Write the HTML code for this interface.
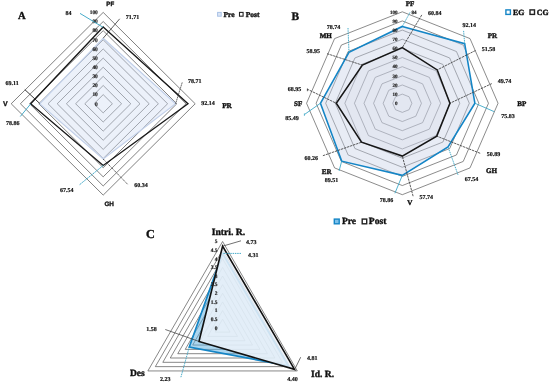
<!DOCTYPE html>
<html><head><meta charset="utf-8"><title>Radar charts</title>
<style>html,body{margin:0;padding:0;background:#fff;width:550px;height:385px;overflow:hidden}svg{display:block;text-rendering:geometricPrecision}</style>
</head><body>
<svg width="550" height="385" viewBox="0 0 550 385">
<polygon points="103.2,94.61 112.4,103.75 103.2,112.89 94,103.75" fill="none" stroke="#4a4a4a" stroke-width="0.7"/>
<polygon points="103.2,85.48 121.6,103.75 103.2,122.02 84.8,103.75" fill="none" stroke="#4a4a4a" stroke-width="0.7"/>
<polygon points="103.2,76.34 130.8,103.75 103.2,131.16 75.6,103.75" fill="none" stroke="#4a4a4a" stroke-width="0.7"/>
<polygon points="103.2,67.21 140,103.75 103.2,140.29 66.4,103.75" fill="none" stroke="#4a4a4a" stroke-width="0.7"/>
<polygon points="103.2,58.08 149.2,103.75 103.2,149.43 57.2,103.75" fill="none" stroke="#4a4a4a" stroke-width="0.7"/>
<polygon points="103.2,48.94 158.4,103.75 103.2,158.56 48,103.75" fill="none" stroke="#4a4a4a" stroke-width="0.7"/>
<polygon points="103.2,39.81 167.6,103.75 103.2,167.69 38.8,103.75" fill="none" stroke="#4a4a4a" stroke-width="0.7"/>
<polygon points="103.2,30.67 176.8,103.75 103.2,176.83 29.6,103.75" fill="none" stroke="#4a4a4a" stroke-width="0.7"/>
<polygon points="103.2,21.53 186,103.75 103.2,185.97 20.4,103.75" fill="none" stroke="#4a4a4a" stroke-width="0.7"/>
<polygon points="103.2,12.4 195.2,103.75 103.2,195.1 11.2,103.75" fill="none" stroke="#4a4a4a" stroke-width="0.7"/>
<polygon points="103.2,38.24 175.61,103.75 103.2,158.87 39.62,103.75" fill="#d0dbf3" fill-opacity="0.4" stroke="#c3d1ea" stroke-width="1.2" stroke-linejoin="miter"/>
<polygon points="103.2,27.02 187.97,103.75 103.2,165.45 30.65,103.75" fill="none" stroke="#181818" stroke-width="1.35" stroke-linejoin="miter"/>
<text x="97.8" y="105.55" font-size="5.4" font-family="'Liberation Serif','Times New Roman',serif" font-weight="bold" text-anchor="end" fill="#222" stroke="#222" stroke-width="0.18" >0</text>
<text x="97.8" y="96.41" font-size="5.4" font-family="'Liberation Serif','Times New Roman',serif" font-weight="bold" text-anchor="end" fill="#222" stroke="#222" stroke-width="0.18" >10</text>
<text x="97.8" y="87.28" font-size="5.4" font-family="'Liberation Serif','Times New Roman',serif" font-weight="bold" text-anchor="end" fill="#222" stroke="#222" stroke-width="0.18" >20</text>
<text x="97.8" y="78.14" font-size="5.4" font-family="'Liberation Serif','Times New Roman',serif" font-weight="bold" text-anchor="end" fill="#222" stroke="#222" stroke-width="0.18" >30</text>
<text x="97.8" y="69.01" font-size="5.4" font-family="'Liberation Serif','Times New Roman',serif" font-weight="bold" text-anchor="end" fill="#222" stroke="#222" stroke-width="0.18" >40</text>
<text x="97.8" y="59.88" font-size="5.4" font-family="'Liberation Serif','Times New Roman',serif" font-weight="bold" text-anchor="end" fill="#222" stroke="#222" stroke-width="0.18" >50</text>
<text x="97.8" y="50.74" font-size="5.4" font-family="'Liberation Serif','Times New Roman',serif" font-weight="bold" text-anchor="end" fill="#222" stroke="#222" stroke-width="0.18" >60</text>
<text x="97.8" y="41.61" font-size="5.4" font-family="'Liberation Serif','Times New Roman',serif" font-weight="bold" text-anchor="end" fill="#222" stroke="#222" stroke-width="0.18" >70</text>
<text x="97.8" y="32.47" font-size="5.4" font-family="'Liberation Serif','Times New Roman',serif" font-weight="bold" text-anchor="end" fill="#222" stroke="#222" stroke-width="0.18" >80</text>
<text x="97.8" y="23.33" font-size="5.4" font-family="'Liberation Serif','Times New Roman',serif" font-weight="bold" text-anchor="end" fill="#222" stroke="#222" stroke-width="0.18" >90</text>
<text x="97.8" y="14.2" font-size="5.4" font-family="'Liberation Serif','Times New Roman',serif" font-weight="bold" text-anchor="end" fill="#222" stroke="#222" stroke-width="0.18" >100</text>
<text x="110.3" y="5.88" font-size="6.2" font-family="'Liberation Sans',Arial,sans-serif" font-weight="bold" text-anchor="middle" fill="#111" stroke="#111" stroke-width="0.3" >PF</text>
<text x="227" y="107.51" font-size="7.3" font-family="'Liberation Serif','Times New Roman',serif" font-weight="bold" text-anchor="middle" fill="#111" stroke="#111" stroke-width="0.38" >PR</text>
<text x="109.2" y="205.95" font-size="6.4" font-family="'Liberation Sans',Arial,sans-serif" font-weight="bold" text-anchor="middle" fill="#111" stroke="#111" stroke-width="0.3" >GH</text>
<text x="5.35" y="106.32" font-size="7" font-family="'Liberation Sans',Arial,sans-serif" font-weight="bold" text-anchor="middle" fill="#111" stroke="#111" stroke-width="0.3" >V</text>
<text x="21.9" y="18.5" font-size="10.6" font-family="'Liberation Serif','Times New Roman',serif" font-weight="bold" text-anchor="middle" fill="#111" stroke="#111" stroke-width="0.38" >A</text>
<text x="68.4" y="14.78" font-size="6" font-family="'Liberation Serif','Times New Roman',serif" font-weight="bold" text-anchor="middle" fill="#111" stroke="#111" stroke-width="0.18" >84</text>
<text x="132.45" y="19.18" font-size="6" font-family="'Liberation Serif','Times New Roman',serif" font-weight="bold" text-anchor="middle" fill="#111" stroke="#111" stroke-width="0.18" >71.71</text>
<text x="194.7" y="82.58" font-size="6" font-family="'Liberation Serif','Times New Roman',serif" font-weight="bold" text-anchor="middle" fill="#111" stroke="#111" stroke-width="0.18" >78.71</text>
<text x="208" y="105.08" font-size="6" font-family="'Liberation Serif','Times New Roman',serif" font-weight="bold" text-anchor="middle" fill="#111" stroke="#111" stroke-width="0.18" >92.14</text>
<text x="12.15" y="85.38" font-size="6" font-family="'Liberation Serif','Times New Roman',serif" font-weight="bold" text-anchor="middle" fill="#111" stroke="#111" stroke-width="0.18" >69.11</text>
<text x="12.7" y="124.98" font-size="6" font-family="'Liberation Serif','Times New Roman',serif" font-weight="bold" text-anchor="middle" fill="#111" stroke="#111" stroke-width="0.18" >78.86</text>
<text x="66.65" y="191.78" font-size="6" font-family="'Liberation Serif','Times New Roman',serif" font-weight="bold" text-anchor="middle" fill="#111" stroke="#111" stroke-width="0.18" >67.54</text>
<text x="140.95" y="186.68" font-size="6" font-family="'Liberation Serif','Times New Roman',serif" font-weight="bold" text-anchor="middle" fill="#111" stroke="#111" stroke-width="0.18" >60.34</text>
<line x1="80" y1="13.4" x2="102.9" y2="27.2" stroke="#33a3c4" stroke-width="0.9"/>
<line x1="30.6" y1="104" x2="20.3" y2="116.5" stroke="#33a3c4" stroke-width="0.9"/>
<line x1="79.6" y1="184.7" x2="103.2" y2="165.5" stroke="#33a3c4" stroke-width="0.9" stroke-dasharray="1.8,0.6"/>
<line x1="119.7" y1="18.8" x2="103.2" y2="38.2" stroke="#2a2a2a" stroke-width="0.75"/>
<line x1="182.2" y1="82.5" x2="175.6" y2="103.75" stroke="#2a2a2a" stroke-width="0.8" stroke-dasharray="1.4,0.7"/>
<line x1="24.8" y1="89.6" x2="39.8" y2="103.5" stroke="#222" stroke-width="0.9"/>
<line x1="103.2" y1="159" x2="128" y2="184.7" stroke="#2a2a2a" stroke-width="0.8" stroke-dasharray="1.4,0.7"/>
<rect x="217.6" y="12.4" width="3.6" height="3.8" fill="#dce6f5" stroke="#a9c2e6" stroke-width="1"/>
<text x="229.05" y="16.68" font-size="7.5" font-family="'Liberation Serif','Times New Roman',serif" font-weight="bold" text-anchor="middle" fill="#111" stroke="#111" stroke-width="0.38" >Pre</text>
<rect x="239.5" y="12.4" width="3.6" height="3.8" fill="#fff" stroke="#222" stroke-width="1.1"/>
<text x="252.55" y="16.68" font-size="7.5" font-family="'Liberation Serif','Times New Roman',serif" font-weight="bold" text-anchor="middle" fill="#111" stroke="#111" stroke-width="0.38" >Post</text>
<polygon points="402.3,94.11 409.07,96.78 411.88,103.25 409.07,109.72 402.3,112.39 395.53,109.72 392.73,103.25 395.53,96.78" fill="none" stroke="#5a5a5a" stroke-width="0.7"/>
<polygon points="402.3,84.96 415.84,90.32 421.45,103.25 415.84,116.18 402.3,121.54 388.76,116.18 383.15,103.25 388.76,90.32" fill="none" stroke="#5a5a5a" stroke-width="0.7"/>
<polygon points="402.3,75.81 422.61,83.85 431.03,103.25 422.61,122.65 402.3,130.69 381.99,122.65 373.57,103.25 381.99,83.85" fill="none" stroke="#5a5a5a" stroke-width="0.7"/>
<polygon points="402.3,66.67 429.38,77.38 440.6,103.25 429.38,129.12 402.3,139.83 375.22,129.12 364,103.25 375.22,77.38" fill="none" stroke="#5a5a5a" stroke-width="0.7"/>
<polygon points="402.3,57.52 436.15,70.92 450.18,103.25 436.15,135.58 402.3,148.97 368.45,135.58 354.43,103.25 368.45,70.92" fill="none" stroke="#5a5a5a" stroke-width="0.7"/>
<polygon points="402.3,48.38 442.92,64.45 459.75,103.25 442.92,142.05 402.3,158.12 361.68,142.05 344.85,103.25 361.68,64.45" fill="none" stroke="#5a5a5a" stroke-width="0.7"/>
<polygon points="402.3,39.23 449.69,57.98 469.32,103.25 449.69,148.52 402.3,167.26 354.91,148.52 335.28,103.25 354.91,57.98" fill="none" stroke="#5a5a5a" stroke-width="0.7"/>
<polygon points="402.3,30.09 456.46,51.52 478.9,103.25 456.46,154.98 402.3,176.41 348.14,154.98 325.7,103.25 348.14,51.52" fill="none" stroke="#5a5a5a" stroke-width="0.7"/>
<polygon points="402.3,20.94 463.23,45.05 488.48,103.25 463.23,161.45 402.3,185.56 341.37,161.45 316.12,103.25 341.37,45.05" fill="none" stroke="#5a5a5a" stroke-width="0.7"/>
<polygon points="402.3,11.8 470.01,38.59 498.05,103.25 470.01,167.91 402.3,194.7 334.59,167.91 306.55,103.25 334.59,38.59" fill="none" stroke="#5a5a5a" stroke-width="0.7"/>
<polygon points="402.3,26.43 464.68,43.67 474.91,103.25 448.03,146.92 402.3,175.37 341.7,161.13 320.44,103.25 348.99,52.33" fill="#c6d0e6" fill-opacity="0.4" stroke="none"/>
<polygon points="402.3,47.61 437.22,69.9 449.93,103.25 436.76,136.16 402.3,156.05 361.5,142.22 336.28,103.25 362.39,65.13" fill="#d2d8e6" fill-opacity="0.25" stroke="none"/>
<polygon points="402.3,26.43 464.68,43.67 474.91,103.25 448.03,146.92 402.3,175.37 341.7,161.13 320.44,103.25 348.99,52.33" fill="none" stroke="#1485c6" stroke-width="1.55" stroke-linejoin="miter"/>
<polygon points="402.3,47.61 437.22,69.9 449.93,103.25 436.76,136.16 402.3,156.05 361.5,142.22 336.28,103.25 362.39,65.13" fill="none" stroke="#161616" stroke-width="1.55" stroke-linejoin="miter"/>
<text x="397.5" y="104.95" font-size="5" font-family="'Liberation Serif','Times New Roman',serif" font-weight="bold" text-anchor="end" fill="#222" stroke="#222" stroke-width="0.18" >0</text>
<text x="397.5" y="95.81" font-size="5" font-family="'Liberation Serif','Times New Roman',serif" font-weight="bold" text-anchor="end" fill="#222" stroke="#222" stroke-width="0.18" >10</text>
<text x="397.5" y="86.66" font-size="5" font-family="'Liberation Serif','Times New Roman',serif" font-weight="bold" text-anchor="end" fill="#222" stroke="#222" stroke-width="0.18" >20</text>
<text x="397.5" y="77.52" font-size="5" font-family="'Liberation Serif','Times New Roman',serif" font-weight="bold" text-anchor="end" fill="#222" stroke="#222" stroke-width="0.18" >30</text>
<text x="397.5" y="68.37" font-size="5" font-family="'Liberation Serif','Times New Roman',serif" font-weight="bold" text-anchor="end" fill="#222" stroke="#222" stroke-width="0.18" >40</text>
<text x="397.5" y="59.23" font-size="5" font-family="'Liberation Serif','Times New Roman',serif" font-weight="bold" text-anchor="end" fill="#222" stroke="#222" stroke-width="0.18" >50</text>
<text x="397.5" y="50.08" font-size="5" font-family="'Liberation Serif','Times New Roman',serif" font-weight="bold" text-anchor="end" fill="#222" stroke="#222" stroke-width="0.18" >60</text>
<text x="397.5" y="40.94" font-size="5" font-family="'Liberation Serif','Times New Roman',serif" font-weight="bold" text-anchor="end" fill="#222" stroke="#222" stroke-width="0.18" >70</text>
<text x="397.5" y="31.79" font-size="5" font-family="'Liberation Serif','Times New Roman',serif" font-weight="bold" text-anchor="end" fill="#222" stroke="#222" stroke-width="0.18" >80</text>
<text x="397.5" y="22.64" font-size="5" font-family="'Liberation Serif','Times New Roman',serif" font-weight="bold" text-anchor="end" fill="#222" stroke="#222" stroke-width="0.18" >90</text>
<text x="397.5" y="13.5" font-size="5" font-family="'Liberation Serif','Times New Roman',serif" font-weight="bold" text-anchor="end" fill="#222" stroke="#222" stroke-width="0.18" >100</text>
<text x="295.25" y="19.66" font-size="11.4" font-family="'Liberation Serif','Times New Roman',serif" font-weight="bold" text-anchor="middle" fill="#111" stroke="#111" stroke-width="0.38" >B</text>
<text x="410" y="6.09" font-size="7.1" font-family="'Liberation Serif','Times New Roman',serif" font-weight="bold" text-anchor="middle" fill="#111" stroke="#111" stroke-width="0.38" >PF</text>
<text x="492.5" y="38.39" font-size="7.1" font-family="'Liberation Serif','Times New Roman',serif" font-weight="bold" text-anchor="middle" fill="#111" stroke="#111" stroke-width="0.38" >PR</text>
<text x="521.7" y="105.64" font-size="7.1" font-family="'Liberation Serif','Times New Roman',serif" font-weight="bold" text-anchor="middle" fill="#111" stroke="#111" stroke-width="0.38" >BP</text>
<text x="491.55" y="173.34" font-size="7.1" font-family="'Liberation Serif','Times New Roman',serif" font-weight="bold" text-anchor="middle" fill="#111" stroke="#111" stroke-width="0.38" >GH</text>
<text x="409.9" y="205.04" font-size="7.1" font-family="'Liberation Serif','Times New Roman',serif" font-weight="bold" text-anchor="middle" fill="#111" stroke="#111" stroke-width="0.38" >V</text>
<text x="326.7" y="173.64" font-size="7.1" font-family="'Liberation Serif','Times New Roman',serif" font-weight="bold" text-anchor="middle" fill="#111" stroke="#111" stroke-width="0.38" >ER</text>
<text x="298.25" y="105.84" font-size="7.1" font-family="'Liberation Serif','Times New Roman',serif" font-weight="bold" text-anchor="middle" fill="#111" stroke="#111" stroke-width="0.38" >SF</text>
<text x="325.75" y="38.44" font-size="7.1" font-family="'Liberation Serif','Times New Roman',serif" font-weight="bold" text-anchor="middle" fill="#111" stroke="#111" stroke-width="0.38" >MH</text>
<text x="414.1" y="14.35" font-size="5" font-family="'Liberation Serif','Times New Roman',serif" font-weight="bold" text-anchor="middle" fill="#111" stroke="#111" stroke-width="0.18" >84</text>
<text x="434.85" y="15.08" font-size="6" font-family="'Liberation Serif','Times New Roman',serif" font-weight="bold" text-anchor="middle" fill="#111" stroke="#111" stroke-width="0.18" >60.84</text>
<text x="469.3" y="26.63" font-size="6" font-family="'Liberation Serif','Times New Roman',serif" font-weight="bold" text-anchor="middle" fill="#111" stroke="#111" stroke-width="0.18" >92.14</text>
<text x="488.5" y="50.83" font-size="6" font-family="'Liberation Serif','Times New Roman',serif" font-weight="bold" text-anchor="middle" fill="#111" stroke="#111" stroke-width="0.18" >51.58</text>
<text x="504.45" y="83.48" font-size="6" font-family="'Liberation Serif','Times New Roman',serif" font-weight="bold" text-anchor="middle" fill="#111" stroke="#111" stroke-width="0.18" >49.74</text>
<text x="508.05" y="117.68" font-size="6" font-family="'Liberation Serif','Times New Roman',serif" font-weight="bold" text-anchor="middle" fill="#111" stroke="#111" stroke-width="0.18" >75.83</text>
<text x="493.6" y="156.08" font-size="6" font-family="'Liberation Serif','Times New Roman',serif" font-weight="bold" text-anchor="middle" fill="#111" stroke="#111" stroke-width="0.18" >50.89</text>
<text x="471.4" y="180.98" font-size="6" font-family="'Liberation Serif','Times New Roman',serif" font-weight="bold" text-anchor="middle" fill="#111" stroke="#111" stroke-width="0.18" >67.54</text>
<text x="426.15" y="199.28" font-size="6" font-family="'Liberation Serif','Times New Roman',serif" font-weight="bold" text-anchor="middle" fill="#111" stroke="#111" stroke-width="0.18" >57.74</text>
<text x="386.4" y="202.48" font-size="6" font-family="'Liberation Serif','Times New Roman',serif" font-weight="bold" text-anchor="middle" fill="#111" stroke="#111" stroke-width="0.18" >78.86</text>
<text x="331.4" y="181.98" font-size="6" font-family="'Liberation Serif','Times New Roman',serif" font-weight="bold" text-anchor="middle" fill="#111" stroke="#111" stroke-width="0.18" >89.51</text>
<text x="311.15" y="159.68" font-size="6" font-family="'Liberation Serif','Times New Roman',serif" font-weight="bold" text-anchor="middle" fill="#111" stroke="#111" stroke-width="0.18" >60.26</text>
<text x="292" y="119.98" font-size="6" font-family="'Liberation Serif','Times New Roman',serif" font-weight="bold" text-anchor="middle" fill="#111" stroke="#111" stroke-width="0.18" >85.49</text>
<text x="294.55" y="91.38" font-size="6" font-family="'Liberation Serif','Times New Roman',serif" font-weight="bold" text-anchor="middle" fill="#111" stroke="#111" stroke-width="0.18" >68.95</text>
<text x="313.3" y="53.48" font-size="6" font-family="'Liberation Serif','Times New Roman',serif" font-weight="bold" text-anchor="middle" fill="#111" stroke="#111" stroke-width="0.18" >58.95</text>
<text x="333.4" y="29.38" font-size="6" font-family="'Liberation Serif','Times New Roman',serif" font-weight="bold" text-anchor="middle" fill="#111" stroke="#111" stroke-width="0.18" >78.74</text>
<line x1="410" y1="12.4" x2="402.3" y2="26.43" stroke="#33a3c4" stroke-width="0.9" stroke-dasharray="1.5,0.8"/>
<line x1="463.6" y1="30.9" x2="464.68" y2="43.67" stroke="#33a3c4" stroke-width="0.9" stroke-dasharray="1.5,0.8"/>
<line x1="494.3" y1="111.7" x2="474.91" y2="103.25" stroke="#33a3c4" stroke-width="0.85"/>
<line x1="458" y1="174.8" x2="448.03" y2="146.92" stroke="#33a3c4" stroke-width="0.9" stroke-dasharray="1.5,0.8"/>
<line x1="394.9" y1="193.3" x2="402.3" y2="175.37" stroke="#33a3c4" stroke-width="0.85"/>
<line x1="339.1" y1="170.9" x2="341.7" y2="161.13" stroke="#33a3c4" stroke-width="0.85"/>
<line x1="304.6" y1="114.4" x2="320.44" y2="103.25" stroke="#33a3c4" stroke-width="0.85"/>
<line x1="348" y1="28" x2="348.99" y2="52.33" stroke="#33a3c4" stroke-width="0.9" stroke-dasharray="1.5,0.8"/>
<line x1="421.8" y1="14.9" x2="402.3" y2="47.61" stroke="#333" stroke-width="0.8" stroke-dasharray="2.4,0.8"/>
<line x1="475.5" y1="50.5" x2="437.22" y2="69.9" stroke="#333" stroke-width="0.8" stroke-dasharray="2.4,0.8"/>
<line x1="491.8" y1="83.6" x2="449.93" y2="103.25" stroke="#333" stroke-width="0.8" stroke-dasharray="2.4,0.8"/>
<line x1="480.2" y1="153.3" x2="436.76" y2="136.16" stroke="#333" stroke-width="0.8" stroke-dasharray="2.4,0.8"/>
<line x1="413.1" y1="196.2" x2="402.3" y2="156.05" stroke="#333" stroke-width="0.8" stroke-dasharray="2.4,0.8"/>
<line x1="322.9" y1="155.7" x2="361.5" y2="142.22" stroke="#333" stroke-width="0.8" stroke-dasharray="2.4,0.8"/>
<line x1="307.1" y1="89.1" x2="336.28" y2="103.25" stroke="#333" stroke-width="0.8" stroke-dasharray="2.4,0.8"/>
<line x1="327.1" y1="53.7" x2="362.39" y2="65.13" stroke="#333" stroke-width="0.8" stroke-dasharray="2.4,0.8"/>
<line x1="307.4" y1="88.6" x2="307.4" y2="91.2" stroke="#333" stroke-width="0.8"/>
<line x1="304.4" y1="113.4" x2="304.4" y2="115.8" stroke="#33a3c4" stroke-width="0.8"/>
<rect x="505.9" y="9.9" width="4.5" height="4.5" fill="#fff" stroke="#1485c6" stroke-width="1.4"/>
<text x="518.65" y="14.71" font-size="7.9" font-family="'Liberation Serif','Times New Roman',serif" font-weight="bold" text-anchor="middle" fill="#111" stroke="#111" stroke-width="0.38" >EG</text>
<rect x="530" y="9.9" width="4.5" height="4.5" fill="#fff" stroke="#222" stroke-width="1.4"/>
<text x="542.7" y="14.71" font-size="7.9" font-family="'Liberation Serif','Times New Roman',serif" font-weight="bold" text-anchor="middle" fill="#111" stroke="#111" stroke-width="0.38" >CG</text>
<polygon points="222.6,319.17 230.07,332.12 215.13,332.12" fill="none" stroke="#555" stroke-width="0.7"/>
<polygon points="222.6,310.54 237.55,336.43 207.65,336.43" fill="none" stroke="#555" stroke-width="0.7"/>
<polygon points="222.6,301.91 245.02,340.75 200.18,340.75" fill="none" stroke="#555" stroke-width="0.7"/>
<polygon points="222.6,293.28 252.5,345.06 192.7,345.06" fill="none" stroke="#555" stroke-width="0.7"/>
<polygon points="222.6,284.65 259.97,349.38 185.23,349.38" fill="none" stroke="#555" stroke-width="0.7"/>
<polygon points="222.6,276.02 267.44,353.69 177.76,353.69" fill="none" stroke="#555" stroke-width="0.7"/>
<polygon points="222.6,267.39 274.92,358 170.28,358.01" fill="none" stroke="#555" stroke-width="0.7"/>
<polygon points="222.6,258.76 282.39,362.32 162.81,362.32" fill="none" stroke="#555" stroke-width="0.7"/>
<polygon points="222.6,250.13 289.86,366.63 155.34,366.64" fill="none" stroke="#555" stroke-width="0.7"/>
<polygon points="222.6,241.5 297.34,370.95 147.86,370.95" fill="none" stroke="#555" stroke-width="0.7"/>
<polygon points="222.6,253.41 288.37,365.77 189.27,347.04" fill="#5aaee0" fill-opacity="0.5" stroke="none"/>
<polygon points="222.6,253.41 288.37,365.77 189.27,347.04" fill="none" stroke="#1485c6" stroke-width="1.7" stroke-linejoin="miter"/>
<polygon points="222.6,246.16 294.5,369.31 198.98,341.44" fill="#ecf2f9" fill-opacity="0.85" stroke="none"/>
<polygon points="222.6,246.16 294.5,369.31 198.98,341.44" fill="none" stroke="#111" stroke-width="1.6" stroke-linejoin="miter"/>
<text x="217.5" y="329.6" font-size="5.4" font-family="'Liberation Serif','Times New Roman',serif" font-weight="bold" text-anchor="end" fill="#222" stroke="#222" stroke-width="0.18" >0</text>
<text x="217.5" y="320.97" font-size="5.4" font-family="'Liberation Serif','Times New Roman',serif" font-weight="bold" text-anchor="end" fill="#222" stroke="#222" stroke-width="0.18" >0.5</text>
<text x="217.5" y="312.34" font-size="5.4" font-family="'Liberation Serif','Times New Roman',serif" font-weight="bold" text-anchor="end" fill="#222" stroke="#222" stroke-width="0.18" >1</text>
<text x="217.5" y="303.71" font-size="5.4" font-family="'Liberation Serif','Times New Roman',serif" font-weight="bold" text-anchor="end" fill="#222" stroke="#222" stroke-width="0.18" >1.5</text>
<text x="217.5" y="295.08" font-size="5.4" font-family="'Liberation Serif','Times New Roman',serif" font-weight="bold" text-anchor="end" fill="#222" stroke="#222" stroke-width="0.18" >2</text>
<text x="217.5" y="286.45" font-size="5.4" font-family="'Liberation Serif','Times New Roman',serif" font-weight="bold" text-anchor="end" fill="#222" stroke="#222" stroke-width="0.18" >2.5</text>
<text x="217.5" y="277.82" font-size="5.4" font-family="'Liberation Serif','Times New Roman',serif" font-weight="bold" text-anchor="end" fill="#222" stroke="#222" stroke-width="0.18" >3</text>
<text x="217.5" y="269.19" font-size="5.4" font-family="'Liberation Serif','Times New Roman',serif" font-weight="bold" text-anchor="end" fill="#222" stroke="#222" stroke-width="0.18" >3.5</text>
<text x="217.5" y="260.56" font-size="5.4" font-family="'Liberation Serif','Times New Roman',serif" font-weight="bold" text-anchor="end" fill="#222" stroke="#222" stroke-width="0.18" >4</text>
<text x="217.5" y="251.93" font-size="5.4" font-family="'Liberation Serif','Times New Roman',serif" font-weight="bold" text-anchor="end" fill="#222" stroke="#222" stroke-width="0.18" >4.5</text>
<text x="217.5" y="243.3" font-size="5.4" font-family="'Liberation Serif','Times New Roman',serif" font-weight="bold" text-anchor="end" fill="#222" stroke="#222" stroke-width="0.18" >5</text>
<text x="150.5" y="238.28" font-size="12.2" font-family="'Liberation Serif','Times New Roman',serif" font-weight="bold" text-anchor="middle" fill="#111" stroke="#111" stroke-width="0.38" >C</text>
<text x="228.4" y="235.37" font-size="9.6" font-family="'Liberation Serif','Times New Roman',serif" font-weight="bold" text-anchor="middle" fill="#111" stroke="#111" stroke-width="0.38" >Intri. R.</text>
<text x="322.6" y="376.63" font-size="9.5" font-family="'Liberation Serif','Times New Roman',serif" font-weight="bold" text-anchor="middle" fill="#111" stroke="#111" stroke-width="0.38" >Id. R.</text>
<text x="137.35" y="376.03" font-size="9.5" font-family="'Liberation Serif','Times New Roman',serif" font-weight="bold" text-anchor="middle" fill="#111" stroke="#111" stroke-width="0.38" >Des</text>
<text x="251.25" y="243.78" font-size="6" font-family="'Liberation Serif','Times New Roman',serif" font-weight="bold" text-anchor="middle" fill="#111" stroke="#111" stroke-width="0.18" >4.73</text>
<text x="253.3" y="257.28" font-size="6" font-family="'Liberation Serif','Times New Roman',serif" font-weight="bold" text-anchor="middle" fill="#111" stroke="#111" stroke-width="0.18" >4.31</text>
<text x="312.3" y="359.98" font-size="6" font-family="'Liberation Serif','Times New Roman',serif" font-weight="bold" text-anchor="middle" fill="#111" stroke="#111" stroke-width="0.18" >4.81</text>
<text x="292.55" y="381.48" font-size="6" font-family="'Liberation Serif','Times New Roman',serif" font-weight="bold" text-anchor="middle" fill="#111" stroke="#111" stroke-width="0.18" >4.40</text>
<text x="151.4" y="330.88" font-size="6" font-family="'Liberation Serif','Times New Roman',serif" font-weight="bold" text-anchor="middle" fill="#111" stroke="#111" stroke-width="0.18" >1.58</text>
<text x="165.35" y="381.18" font-size="6" font-family="'Liberation Serif','Times New Roman',serif" font-weight="bold" text-anchor="middle" fill="#111" stroke="#111" stroke-width="0.18" >2.23</text>
<line x1="241" y1="240.8" x2="222.6" y2="246.16" stroke="#333" stroke-width="0.7"/>
<line x1="241" y1="253.41" x2="222.6" y2="253.41" stroke="#33a3c4" stroke-width="0.9" stroke-dasharray="1.5,0.8"/>
<line x1="300.7" y1="357.2" x2="295" y2="368.81" stroke="#333" stroke-width="0.7"/>
<line x1="165.3" y1="329.5" x2="198.98" y2="341.44" stroke="#333" stroke-width="0.7"/>
<line x1="180.9" y1="377.2" x2="189.27" y2="347.04" stroke="#33a3c4" stroke-width="0.9" stroke-dasharray="1.5,0.8"/>
<rect x="334.3" y="219.1" width="4.9" height="4.7" fill="#7cc0ea" stroke="#1485c6" stroke-width="1.4"/>
<text x="349" y="224.27" font-size="9.6" font-family="'Liberation Serif','Times New Roman',serif" font-weight="bold" text-anchor="middle" fill="#111" stroke="#111" stroke-width="0.38" >Pre</text>
<rect x="362.2" y="219.1" width="4.5" height="4.7" fill="#fff" stroke="#222" stroke-width="1.4"/>
<text x="377.65" y="224.27" font-size="9.6" font-family="'Liberation Serif','Times New Roman',serif" font-weight="bold" text-anchor="middle" fill="#111" stroke="#111" stroke-width="0.38" >Post</text>
</svg>
</body></html>
